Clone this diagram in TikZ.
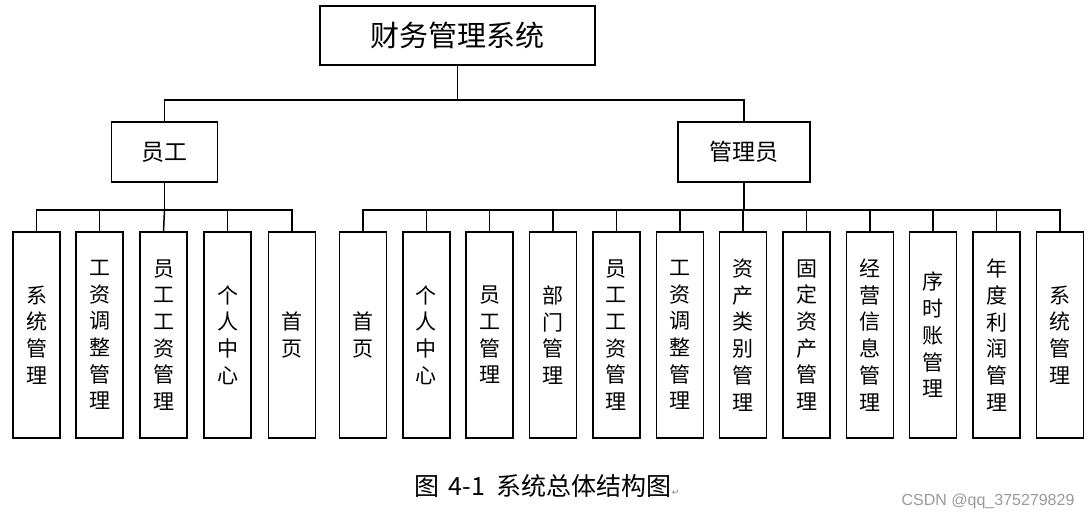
\documentclass[tikz,border=0pt]{standalone}
\usepackage{fontspec}
\setmainfont{Noto Sans CJK SC}
\newfontfamily\markfont{Liberation Sans}
\newfontfamily\symfont{DejaVu Sans}

\begin{document}
\begin{tikzpicture}[x=1pt,y=-1pt,
    topbox/.style ={rectangle, draw, line width=1.5pt, inner sep=0pt},
    funcbox/.style ={rectangle, draw, line width=1.5pt, inner sep=0pt,
      minimum width=47pt, minimum height=206pt, align=center,
      font=\fontsize{21}{26.7}\selectfont},
    link/.style ={line width=1.5pt}]
   \useasboundingbox (0,0) rectangle (1091,519);

   \node[topbox,minimum width=275pt,minimum height=59pt,font=\fontsize{29}{32}\selectfont] (root) at (457.5,35.5) {财务管理系统};
   \node[topbox,minimum width=106pt,minimum height=60pt,font=\fontsize{23}{26}\selectfont] (emp) at (164.5,152) {员工};
   \node[topbox,minimum width=132pt,minimum height=60pt,font=\fontsize{23}{26}\selectfont] (adm) at (744,152) {管理员};

   \node[funcbox] (e1)  at (36.5,335)  {系\\统\\管\\理};
   \node[funcbox] (e2)  at (99.5,335)  {工\\资\\调\\整\\管\\理};
   \node[funcbox] (e3)  at (163.5,335) {员\\工\\工\\资\\管\\理};
   \node[funcbox] (e4)  at (227.5,335) {个\\人\\中\\心};
   \node[funcbox] (e5)  at (292,335)   {首\\页};

   \node[funcbox] (a1)  at (363,335)   {首\\页};
   \node[funcbox] (a2)  at (426.4,335) {个\\人\\中\\心};
   \node[funcbox] (a3)  at (489.7,335) {员\\工\\管\\理};
   \node[funcbox] (a4)  at (553.1,335) {部\\门\\管\\理};
   \node[funcbox] (a5)  at (616.4,335) {员\\工\\工\\资\\管\\理};
   \node[funcbox] (a6)  at (679.8,335) {工\\资\\调\\整\\管\\理};
   \node[funcbox] (a7)  at (743.2,335) {资\\产\\类\\别\\管\\理};
   \node[funcbox] (a8)  at (806.5,335) {固\\定\\资\\产\\管\\理};
   \node[funcbox] (a9)  at (869.9,335) {经\\营\\信\\息\\管\\理};
   \node[funcbox] (a10) at (933.2,335) {序\\时\\账\\管\\理};
   \node[funcbox] (a11) at (996.6,335) {年\\度\\利\\润\\管\\理};
   \node[funcbox] (a12) at (1060,335)  {系\\统\\管\\理};

   \coordinate (rootbus) at (457.5,100);
   \coordinate (empbus) at (164.5,210);
   \coordinate (admbus) at (744,210);

   \draw[link] (root.south) to (rootbus);
   \draw[link] (emp.north) |- (rootbus) -| (adm.north);

   \draw[link] (emp.south) to (empbus);
   \draw[link] (e1.north) |- (empbus);
   \draw[link] (e2.north) |- (empbus);
   \draw[link] (e3.north) to (empbus);
   \draw[link] (e4.north) |- (empbus);
   \draw[link] (e5.north) |- (empbus);

   \draw[link] (adm.south) to (admbus);
   \draw[link] (a1.north) |- (admbus);
   \draw[link] (a2.north) |- (admbus);
   \draw[link] (a3.north) |- (admbus);
   \draw[link] (a4.north) |- (admbus);
   \draw[link] (a5.north) |- (admbus);
   \draw[link] (a6.north) |- (admbus);
   \draw[link] (a7.north) |- (admbus);
   \draw[link] (a8.north) |- (admbus);
   \draw[link] (a9.north) |- (admbus);
   \draw[link] (a10.north) |- (admbus);
   \draw[link] (a11.north) |- (admbus);
   \draw[link] (a12.north) |- (admbus);

   \node[anchor=west,font=\fontsize{25}{28}\selectfont] (caption) at (411,486) {图\hspace{9pt}4-1\hspace{12pt}系统总体结构图{\symfont\fontsize{9}{12}\selectfont\color{gray}↵}};
   \node[anchor=east,text=black!40,font=\markfont\fontsize{16}{18}\selectfont] (mark) at (1078,501) {CSDN @qq\_375279829};
 \end{tikzpicture}
\end{document}
